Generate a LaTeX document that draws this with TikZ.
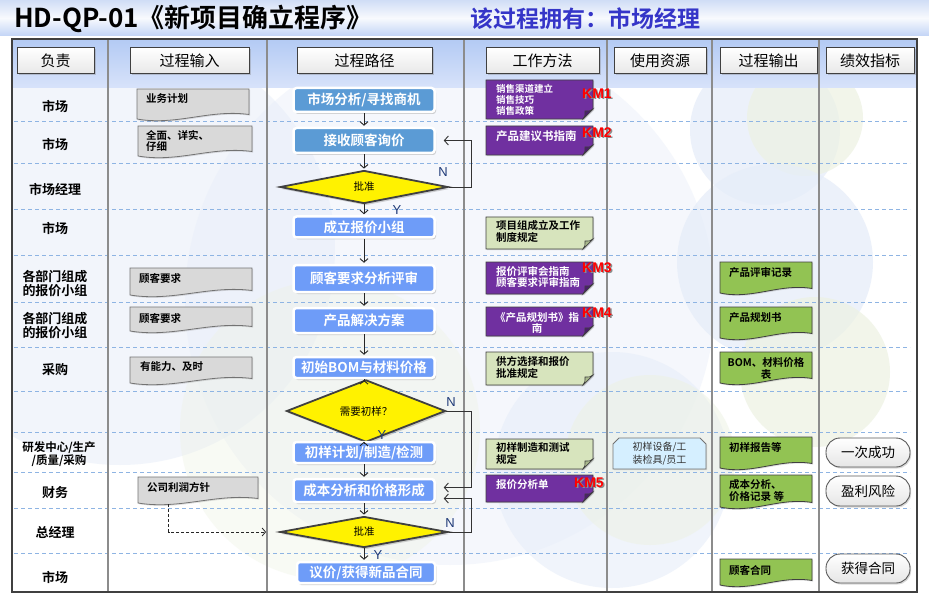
\documentclass[tikz,border=0pt]{standalone}
\usepackage{fontspec}
\setmainfont{Noto Sans CJK SC}[BoldFont=* Bold]
\newfontfamily\latinfont{Liberation Sans}[BoldFont=* Bold]
\usetikzlibrary{shapes.geometric,arrows.meta,shadows,calc}
\definecolor{procA}{HTML}{5B9BD5}
\definecolor{procB}{HTML}{6E9CF8}
\definecolor{purp}{HTML}{7030A0}
\definecolor{purpdk}{HTML}{4A1F6B}
\definecolor{lgreen}{HTML}{D7E4BD}
\definecolor{lgreendk}{HTML}{A9B98C}
\definecolor{ogreen}{HTML}{92C353}
\definecolor{gdoc}{HTML}{D9D9D9}
\definecolor{rowline}{HTML}{8EB4E3}
\definecolor{colline}{HTML}{8C8C8C}
\definecolor{navy}{HTML}{1F3A78}
\definecolor{subblue}{HTML}{3535C8}
\definecolor{resfill}{HTML}{D5EFFF}
\definecolor{dkline}{HTML}{404040}
\definecolor{bandA}{HTML}{D0DDF6}
\definecolor{bandB}{HTML}{C2D4F6}
\definecolor{hdrA}{HTML}{B3CAF4}
\definecolor{hdrB}{HTML}{D8E3FA}
\definecolor{cblue}{HTML}{E6EDF9}
\definecolor{cgreen}{HTML}{EDF2E2}

% wavy-bottom document: name, style, x1, y1, x2, y (bottom-left)
\newcommand\wavedoc[6]{%
  \path[#2] (#3,#4) -- (#5,#4) -- ({#5},{#6-4.5})
     .. controls ({#5-0.35*(#5-#3)},{#6-10}) and ({#3+0.35*(#5-#3)},{#6+7}) .. (#3,#6) -- cycle;
  \node[inner sep=0pt, minimum width={#5-#3}, minimum height={#6-#4}] (#1) at ({(#3+#5)/2},{(#4+#6)/2}) {};
}
% folded-corner document: name, fill, x1, y1, x2, y2, flap colour
\newcommand\folddoc[7]{%
  \path[draw=dkline, line width=0.8pt, fill=#2, drop shadow={shadow xshift=1.2pt, shadow yshift=-1.2pt, opacity=0.3}]
     (#3,#4) -- (#5,#4) -- ({#5},{#6-10}) -- ({#5-10},{#6}) -- (#3,#6) -- cycle;
  \path[draw=dkline, line width=0.6pt, fill=#7]
     ({#5},{#6-10}) .. controls ({#5-3},{#6-8}) .. ({#5-8},{#6-8}) .. controls ({#5-8},{#6-3}) .. ({#5-10},{#6}) -- cycle;
  \node[inner sep=0pt, minimum width={#5-#3}, minimum height={#6-#4}] (#1) at ({(#3+#5)/2},{(#4+#6)/2}) {};
}
\newcommand\kmtext[1]{\makebox[0pt][l]{\raisebox{-1.3pt}{\hspace{1.3pt}\textcolor{black!45}{#1}}}\textcolor{red}{#1}}

\begin{document}
\begin{tikzpicture}[x=1pt,y=-1pt,
  hbox/.style={draw=dkline, line width=0.8pt, top color=white, bottom color=black!9,
    drop shadow={shadow xshift=1.5pt, shadow yshift=-1.5pt, opacity=0.35},
    inner sep=0pt, minimum height=26pt, font=\fontsize{15}{15}\selectfont},
  role/.style={font=\fontsize{13}{14}\selectfont\bfseries, align=center, inner sep=0pt},
  pbox/.style={rectangle, rounded corners=3pt, draw=white, line width=2.5pt, fill=procB,
    text=white, font=\fontsize{13.5}{14}\selectfont\bfseries, inner sep=0pt, minimum width=141pt,
    drop shadow={shadow xshift=1.5pt, shadow yshift=-2pt, opacity=0.35}},
  dia/.style={diamond, draw=dkline, line width=1.8pt, fill=yellow, inner sep=0pt,
    font=\fontsize{10.5}{11}\selectfont,
    drop shadow={shadow xshift=1.5pt, shadow yshift=-2pt, opacity=0.35}},
  gdocst/.style={draw=black!55, line width=0.8pt, fill=gdoc,
    drop shadow={shadow xshift=1.2pt, shadow yshift=-1.2pt, opacity=0.25}},
  odocst/.style={draw=dkline, line width=0.8pt, fill=ogreen,
    drop shadow={shadow xshift=1.2pt, shadow yshift=-1.2pt, opacity=0.25}},
  dtext/.style={font=\fontsize{10.5}{11.5}\selectfont\bfseries, align=left, inner sep=0pt},
  wtext/.style={font=\fontsize{10}{11}\selectfont\bfseries, align=left, inner sep=0pt, text=white},
  km/.style={font=\latinfont\fontsize{14}{14}\selectfont\bfseries, inner sep=0pt},
  pill/.style={rounded corners=14pt, draw=black!65, line width=0.9pt, top color=white, bottom color=black!10,
    minimum width=84pt, inner sep=0pt, font=\fontsize{13.5}{14}\selectfont,
    drop shadow={shadow xshift=1.2pt, shadow yshift=-1.5pt, opacity=0.3}},
  arr/.style={draw=black!85, line width=0.9pt, -{Straight Barb[length=3.5pt,width=8pt]}},
  loopln/.style={draw=black!80, line width=0.9pt, -{Straight Barb[length=4pt,width=9pt]}, shorten >=8pt},
  ylab/.style={font=\latinfont\fontsize{13}{13}\selectfont, text=navy, inner sep=0pt}
]
\useasboundingbox (0,0) rectangle (929,596);
\fill[white] (0,0) rectangle (929,596);
% title band
\shade[top color=bandA, bottom color=bandB, middle color=white!85!bandA] (0,0) rectangle (929,36);

% table background
\fill[white] (12,39) rectangle (917,592);
\begin{scope}
  \clip (12,88) rectangle (917,592);
  \fill[cblue, opacity=0.5] (120,250) circle (215);
  \fill[cblue, opacity=0.4] (450,300) circle (265);
  \fill[cgreen, opacity=0.35] (330,430) circle (150);
  \fill[cblue, opacity=0.75] (765,130) circle (75);
  \fill[cgreen, opacity=0.7] (805,118) circle (58);
  \fill[cblue, opacity=0.75] (775,262) circle (98);
  \fill[cgreen, opacity=0.7] (815,372) circle (75);
  \fill[cblue, opacity=0.6] (612,470) circle (118);
  \fill[cgreen, opacity=0.5] (650,460) circle (85);
\end{scope}
% header band
\shade[top color=hdrA, bottom color=hdrB] (12,39) rectangle (917,88);

% row dashed lines
\foreach \yy in {122,164,210,255,302,347,391,432,472,508,553}
  \draw[rowline, line width=1pt, dash pattern=on 4pt off 3pt] (14,\yy) -- (910,\yy);
% column lines
\foreach \xx in {108,267,464,607,712,819}
  \draw[colline, line width=1.1pt] (\xx,39) -- (\xx,592);
\draw[dkline, line width=1.3pt] (12,39) rectangle (917,592);

% title
\node[anchor=west, inner sep=0pt, font=\fontsize{26}{26}\selectfont\bfseries] (title) at (14,19) {HD-QP-01《新项目确立程序》};
\node[anchor=west, inner sep=0pt, font=\fontsize{23}{23}\selectfont\bfseries, text=subblue] (owner) at (470,19) {该过程拥有：市场经理};

% headers
\node[hbox, minimum width=77pt] (h1) at (55.5,60.5) {负责};
\node[hbox, minimum width=119pt] (h2) at (189.5,60.5) {过程输入};
\node[hbox, minimum width=135pt] (h3) at (364.5,60.5) {过程路径};
\node[hbox, minimum width=113pt] (h4) at (542.5,60.5) {工作方法};
\node[hbox, minimum width=92pt] (h5) at (660,60.5) {使用资源};
\node[hbox, minimum width=97pt] (h6) at (768.5,60.5) {过程输出};
\node[hbox, minimum width=88pt] (h7) at (870,60.5) {绩效指标};

% roles
\node[role] (r1) at (55,106) {市场};
\node[role] (r2) at (55,144) {市场};
\node[role] (r3) at (55,189) {市场经理};
\node[role] (r4) at (55,228) {市场};
\node[role] (r5) at (55,283.5) {各部门组成\\的报价小组};
\node[role] (r6) at (55,326) {各部门组成\\的报价小组};
\node[role] (r7) at (55,370) {采购};
\node[role, font=\fontsize{11.5}{12.5}\selectfont\bfseries] (r9) at (59,454) {研发中心/生产\\/质量/采购};
\node[role] (r10) at (55,493) {财务};
\node[role] (r11) at (55,532) {总经理};
\node[role] (r12) at (55,577) {市场};

% inputs
\wavedoc{i1}{gdocst}{137}{89}{249}{119}
\node[dtext, anchor=west] (i1t) at (146,99) {业务计划};
\wavedoc{i2}{gdocst}{138}{126}{252}{156}
\node[dtext, anchor=north west] (i2t) at (146,130) {全面、详实、\\仔细};
\wavedoc{i3}{gdocst}{130}{268}{252}{295}
\node[dtext, anchor=west] (i3t) at (139,278) {顾客要求};
\wavedoc{i4}{gdocst}{130}{307}{252}{331}
\node[dtext, anchor=west] (i4t) at (139,318) {顾客要求};
\wavedoc{i5}{gdocst}{130}{357}{252}{383}
\node[dtext, anchor=west] (i5t) at (140,367) {有能力、及时};
\wavedoc{i6}{gdocst}{138}{477}{258}{503}
\node[dtext, anchor=west] (i6t) at (147,487) {公司利润方针};

% process path
\node[pbox, fill=procA, minimum height=24pt] (b1) at (364,100) {市场分析/寻找商机};
\node[pbox, fill=procA, minimum height=25pt] (b2) at (364,140.5) {接收顾客询价};
\node[dia, minimum width=168pt, minimum height=33pt] (d1) at (364,187) {批准};
\node[pbox, minimum height=21pt] (b4) at (364,227) {成立报价小组};
\node[pbox, minimum height=27pt] (b5) at (364,278.5) {顾客要求分析评审};
\node[pbox, minimum height=25pt] (b6) at (364,320.5) {产品解决方案};
\node[pbox, minimum height=21pt] (b7) at (364,367.5) {初始BOM与材料价格};
\node[dia, minimum width=159pt, minimum height=28pt] (d2) at (366,411) {需要初样？};
\node[pbox, minimum height=21pt] (b9) at (364,452.5) {初样计划/制造/检测};
\node[pbox, minimum height=23pt] (b10) at (364,490.5) {成本分析和价格形成};
\node[dia, minimum width=168pt, minimum height=31pt] (d3) at (364,532) {批准};
\node[pbox, minimum height=21pt, minimum width=138pt] (b12) at (366,572.5) {议价/获得新品合同};

\draw[arr, shorten >=1pt] (b1) -- (b2);
\draw[arr, shorten >=1pt] (b2) -- (d1);
\draw[arr, shorten >=1pt] (d1) -- (b4);
\draw[arr, shorten >=1pt] (b4) -- (b5);
\draw[arr, shorten >=1pt] (b5) -- (b6);
\draw[arr, shorten >=1pt] (b6) -- (b7);
\draw[arr, shorten >=1pt] (b7.south) -- (b7.south |- d2.north);
\draw[arr, shorten >=1pt] (d2.south -| b9.north) -- (b9.north);
\draw[arr, shorten >=1pt] (b9) -- (b10);
\draw[arr, shorten >=1pt] (b10) -- (d3);
\draw[arr, shorten >=1pt] (d3.south) -- (d3.south |- b12.north);

\coordinate (lx) at (471,0);
\draw[loopln] (d1.east) -- (d1.east -| lx) |- (b2.east);
\draw[loopln] (d2.east) -- (d2.east -| lx) |- ($(b10.east)+(0,-3)$);
\draw[loopln] (d3.east) -- (d3.east -| lx) |- ($(b10.east)+(0,8)$);
\draw[draw=black!85, line width=0.8pt, dash pattern=on 3pt off 2pt, -{Straight Barb[length=3.5pt,width=8pt]}, shorten >=13pt]
   ($(i6.south west)+(31,1)$) |- (d3.west);

\node[ylab] (y1) at (397,210) {Y};
\node[ylab] (y2) at (382,435) {Y};
\node[ylab] (y3) at (378,555) {Y};
\node[ylab] (n1) at (443,172) {N};
\node[ylab] (n2) at (451,402) {N};
\node[ylab] (n3) at (450,523) {N};

% work methods
\folddoc{w1}{purp}{486}{80}{593}{119}{purpdk}
\node[wtext, anchor=north west, font=\fontsize{9.5}{11}\selectfont\bfseries] (w1t) at (496,84.5) {销售渠道建立\\销售技巧\\销售政策};
\folddoc{w2}{purp}{486}{126}{593}{155}{purpdk}
\node[wtext, anchor=west, font=\fontsize{11.5}{12}\selectfont\bfseries] (w2t) at (496,136) {产品建议书指南};
\folddoc{w3}{lgreen}{486}{217}{593}{249}{lgreendk}
\node[dtext, anchor=north west] (w3t) at (496,220.5) {项目组成立及工作\\制度规定};
\folddoc{w4}{purp}{486}{262}{593}{294}{purpdk}
\node[wtext, anchor=north west, font=\fontsize{10.5}{11}\selectfont\bfseries] (w4t) at (496,266.5) {报价评审会指南\\顾客要求评审指南};
\folddoc{w5}{purp}{486}{307}{593}{336}{purpdk}
\node[wtext, anchor=north, align=center, font=\fontsize{10.5}{11}\selectfont\bfseries] (w5t) at (537,312.5) {《产品规划书》指\\南};
\folddoc{w6}{lgreen}{486}{352}{593}{385}{lgreendk}
\node[dtext, anchor=north west] (w6t) at (496,356.5) {供方选择和报价\\批准规定};
\folddoc{w7}{lgreen}{486}{439}{593}{469}{lgreendk}
\node[dtext, anchor=north west] (w7t) at (496,442.5) {初样制造和测试\\规定};
\folddoc{w8}{purp}{486}{475}{593}{502}{purpdk}
\node[wtext, anchor=west, font=\fontsize{10.5}{11}\selectfont\bfseries] (w8t) at (496,485) {报价分析单};

\node[km] (km1) at (597,94) {\kmtext{KM1}};
\node[km] (km2) at (597,133) {\kmtext{KM2}};
\node[km] (km3) at (597,268) {\kmtext{KM3}};
\node[km] (km4) at (597,313) {\kmtext{KM4}};
\node[km] (km5) at (589,483) {\kmtext{KM5}};

% resources
\path[draw=black!55, line width=0.8pt, fill=resfill, drop shadow={shadow xshift=1.2pt, shadow yshift=-1.2pt, opacity=0.25}]
  (613,444) -- (619,438) -- (700,438) -- (706,444) -- (706,469) -- (613,469) -- cycle;
\node[inner sep=0pt, align=center, text=black!80, font=\fontsize{10}{12.5}\selectfont] (res1) at (659.5,453.5) {初样设备/工\\装检具/员工};

% outputs
\wavedoc{o1}{odocst}{720}{262}{812}{293}
\node[dtext, anchor=west] (o1t) at (729,273) {产品评审记录};
\wavedoc{o2}{odocst}{720}{307}{812}{338}
\node[dtext, anchor=west] (o2t) at (729,318) {产品规划书};
\wavedoc{o3}{odocst}{720}{352}{812}{383}
\node[dtext, anchor=north, align=center] (o3t) at (766,357.5) {BOM、材料价格\\表};
\wavedoc{o4}{odocst}{720}{437}{812}{468}
\node[dtext, anchor=west] (o4t) at (729,447) {初样报告等};
\wavedoc{o5}{odocst}{720}{475}{812}{507}
\node[dtext, anchor=north west] (o5t) at (729,479.5) {成本分析、\\价格记录 等};
\wavedoc{o6}{odocst}{720}{559}{812}{585}
\node[dtext, anchor=west] (o6t) at (729,570) {顾客合同};

% performance
\node[pill, minimum height=29pt] (p1) at (868,452.5) {一次成功};
\node[pill, minimum height=30pt] (p2) at (868,491) {盈利风险};
\node[pill, minimum height=29pt] (p3) at (868,568.5) {获得合同};
\end{tikzpicture}
\end{document}
